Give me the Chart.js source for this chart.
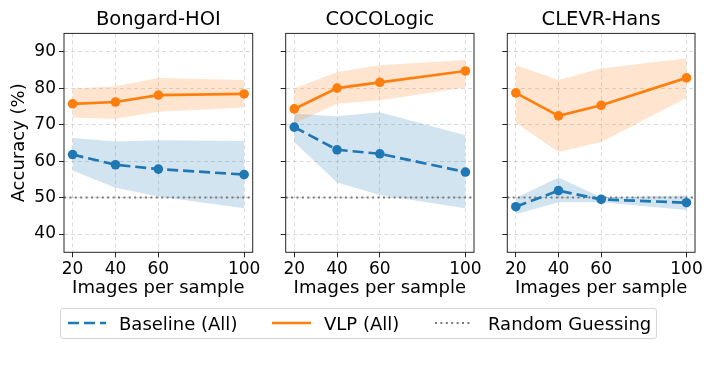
<!DOCTYPE html>
<html>
<head>
<meta charset="utf-8">
<script src="https://cdn.jsdelivr.net/npm/chart.js@4.4.1/dist/chart.umd.min.js"></script>
<style>
  body { margin: 0; background: #fff; }
  #wrap { position: relative; width: 719px; height: 377px; background: #fff; font-family: "DejaVu Sans", sans-serif; overflow: hidden; }
  #wrap canvas { position: absolute; left: 0; top: 0; }
  #legend { position: absolute; left: 60px; top: 308px; width: 595px; height: 29px; border: 1px solid #d6d6d6; border-radius: 3px; }
  .lg { position: absolute; }
  .lt { position: absolute; top: 313px; font-size: 18px; line-height: 21px; color: #000; white-space: nowrap; }
</style>
</head>
<body>
<div id="wrap">
  <canvas id="c1" width="719" height="310"></canvas>
  <canvas id="c2" width="719" height="310"></canvas>
  <canvas id="c3" width="719" height="310"></canvas>
  <div id="legend"></div>
  <svg class="lg" style="left:68px;top:318px" width="40" height="10"><line x1="0" y1="5" x2="38" y2="5" stroke="#1f77b4" stroke-width="2.7" stroke-dasharray="11 5"/></svg>
  <span class="lt" style="left:119px">Baseline (All)</span>
  <svg class="lg" style="left:272px;top:318px" width="40" height="10"><line x1="0" y1="5" x2="39" y2="5" stroke="#ff7f0e" stroke-width="2.7"/></svg>
  <span class="lt" style="left:324px">VLP (All)</span>
  <svg class="lg" style="left:435px;top:318px" width="40" height="10"><line x1="0" y1="5" x2="36" y2="5" stroke="#7a7a7a" stroke-width="2.2" stroke-dasharray="2 3.4"/></svg>
  <span class="lt" style="left:488px">Random Guessing</span>
</div>
<script>
// x values (images per sample) and y ticks
const sizes = [20, 40, 60, 100];
const yTicks = [40, 50, 60, 70, 80, 90];
const chance = 50;

// Bongard-HOI
const hoiBase = [61.8, 59.0, 57.8, 56.3];
const hoiBaseHi = [66.3, 65.4, 65.7, 65.5];
const hoiBaseLo = [57.4, 52.7, 50.3, 47.1];
const hoiVlp = [75.7, 76.2, 78.1, 78.4];
const hoiVlpHi = [79.9, 80.5, 82.8, 82.2];
const hoiVlpLo = [71.9, 71.6, 73.5, 74.7];

// COCOLogic
const cocoBase = [69.3, 63.1, 62.0, 57.0];
const cocoBaseHi = [73.0, 72.3, 73.4, 67.1];
const cocoBaseLo = [65.2, 54.1, 50.7, 47.1];
const cocoVlp = [74.3, 80.0, 81.6, 84.7];
const cocoVlpHi = [79.9, 84.4, 86.3, 87.7];
const cocoVlpLo = [70.3, 75.7, 76.7, 80.2];

// CLEVR-Hans
const clevrBase = [47.5, 51.9, 49.5, 48.6];
const clevrBaseHi = [49.9, 55.5, 50.1, 50.6];
const clevrBaseLo = [45.4, 48.7, 48.7, 46.6];
const clevrVlp = [78.7, 72.4, 75.3, 82.8];
const clevrVlpHi = [86.3, 82.2, 85.4, 88.2];
const clevrVlpLo = [70.5, 62.5, 65.2, 77.3];

const X_MIN = 16, X_MAX = 104, Y_MIN = 35, Y_MAX = 95;
const W = 719, H = 310;
const FONT = "DejaVu Sans";
const BLUE = '#1f77b4', ORANGE = '#ff7f0e';
const gridColor = 'rgba(0,0,0,0.18)';
const spine = '#262626';

const pts = arr => sizes.map((x, i) => ({ x: x, y: arr[i] }));

// draws the full box around the plot area
const framePlugin = {
  id: 'frame',
  afterDraw(chart) {
    const a = chart.chartArea, ctx = chart.ctx;
    ctx.save();
    ctx.strokeStyle = spine;
    ctx.lineWidth = 1;
    ctx.strokeRect(a.left, a.top, a.right - a.left, a.bottom - a.top);
    ctx.restore();
  }
};

function makePanel(id, title, base, baseHi, baseLo, vlp, vlpHi, vlpLo, plotLeft, plotRight, showY) {
  const yW = showY ? plotLeft : 5;
  new Chart(document.getElementById(id), {
    type: 'line',
    data: {
      datasets: [
        { data: pts(vlpHi), fill: '+1', backgroundColor: 'rgba(255,127,14,0.2)', borderWidth: 0, pointRadius: 0, order: 10 },
        { data: pts(vlpLo), fill: false, borderWidth: 0, pointRadius: 0, order: 10 },
        { data: pts(baseHi), fill: '+1', backgroundColor: 'rgba(31,119,180,0.2)', borderWidth: 0, pointRadius: 0, order: 10 },
        { data: pts(baseLo), fill: false, borderWidth: 0, pointRadius: 0, order: 10 },
        { data: [{ x: X_MIN, y: chance }, { x: X_MAX, y: chance }], borderColor: '#7a7a7a', borderWidth: 2,
          borderDash: [2, 3.4], pointRadius: 0, fill: false, order: 3 },
        { data: pts(base), borderColor: BLUE, backgroundColor: BLUE, borderWidth: 2.7, borderDash: [11, 5],
          pointRadius: 4.8, pointBorderWidth: 0, fill: false, order: 2 },
        { data: pts(vlp), borderColor: ORANGE, backgroundColor: ORANGE, borderWidth: 2.7,
          pointRadius: 4.8, pointBorderWidth: 0, fill: false, order: 1 }
      ]
    },
    options: {
      responsive: false,
      animation: false,
      devicePixelRatio: 1,
      events: [],
      layout: { padding: { left: plotLeft - yW, right: W - plotRight, top: 0, bottom: 0 } },
      plugins: {
        legend: { display: false },
        tooltip: { enabled: false },
        title: {
          display: true,
          text: title,
          fullSize: false,
          color: '#000',
          font: { family: FONT, size: 19.5, weight: 'normal', lineHeight: 1.2 },
          padding: { top: 8, bottom: 2 }
        }
      },
      scales: {
        x: {
          type: 'linear',
          min: X_MIN,
          max: X_MAX,
          afterBuildTicks: s => { s.ticks = sizes.map(v => ({ value: v })); },
          afterFit: s => { s.height = H - 252.3; },
          ticks: { color: '#000', font: { family: FONT, size: 17 }, padding: 2, maxRotation: 0, autoSkip: false },
          grid: { color: gridColor, lineWidth: 0.8, tickLength: 5, tickColor: spine, tickWidth: 1 },
          border: { display: false, dash: [4, 3] },
          title: { display: true, text: 'Images per sample', color: '#000',
                   font: { family: FONT, size: 18 }, padding: { top: 0, bottom: 11 } }
        },
        y: {
          type: 'linear',
          min: Y_MIN,
          max: Y_MAX,
          afterBuildTicks: s => { s.ticks = yTicks.map(v => ({ value: v })); },
          afterFit: s => { s.width = yW; },
          ticks: { display: showY, color: '#000', font: { family: FONT, size: 17 }, padding: 3 },
          grid: { color: gridColor, lineWidth: 0.8, tickLength: 5, tickColor: spine, tickWidth: 1 },
          border: { display: false, dash: [4, 3] },
          title: { display: showY, text: 'Accuracy (%)', color: '#000',
                   font: { family: FONT, size: 18 }, padding: { top: 9, bottom: 0 } }
        }
      }
    },
    plugins: [framePlugin]
  });
}

makePanel('c1', 'Bongard-HOI', hoiBase, hoiBaseHi, hoiBaseLo, hoiVlp, hoiVlpHi, hoiVlpLo, 64, 252.7, true);
makePanel('c2', 'COCOLogic', cocoBase, cocoBaseHi, cocoBaseLo, cocoVlp, cocoVlpHi, cocoVlpLo, 285.7, 474, false);
makePanel('c3', 'CLEVR-Hans', clevrBase, clevrBaseHi, clevrBaseLo, clevrVlp, clevrVlpHi, clevrVlpLo, 507.3, 695, false);
</script>
</body>
</html>
